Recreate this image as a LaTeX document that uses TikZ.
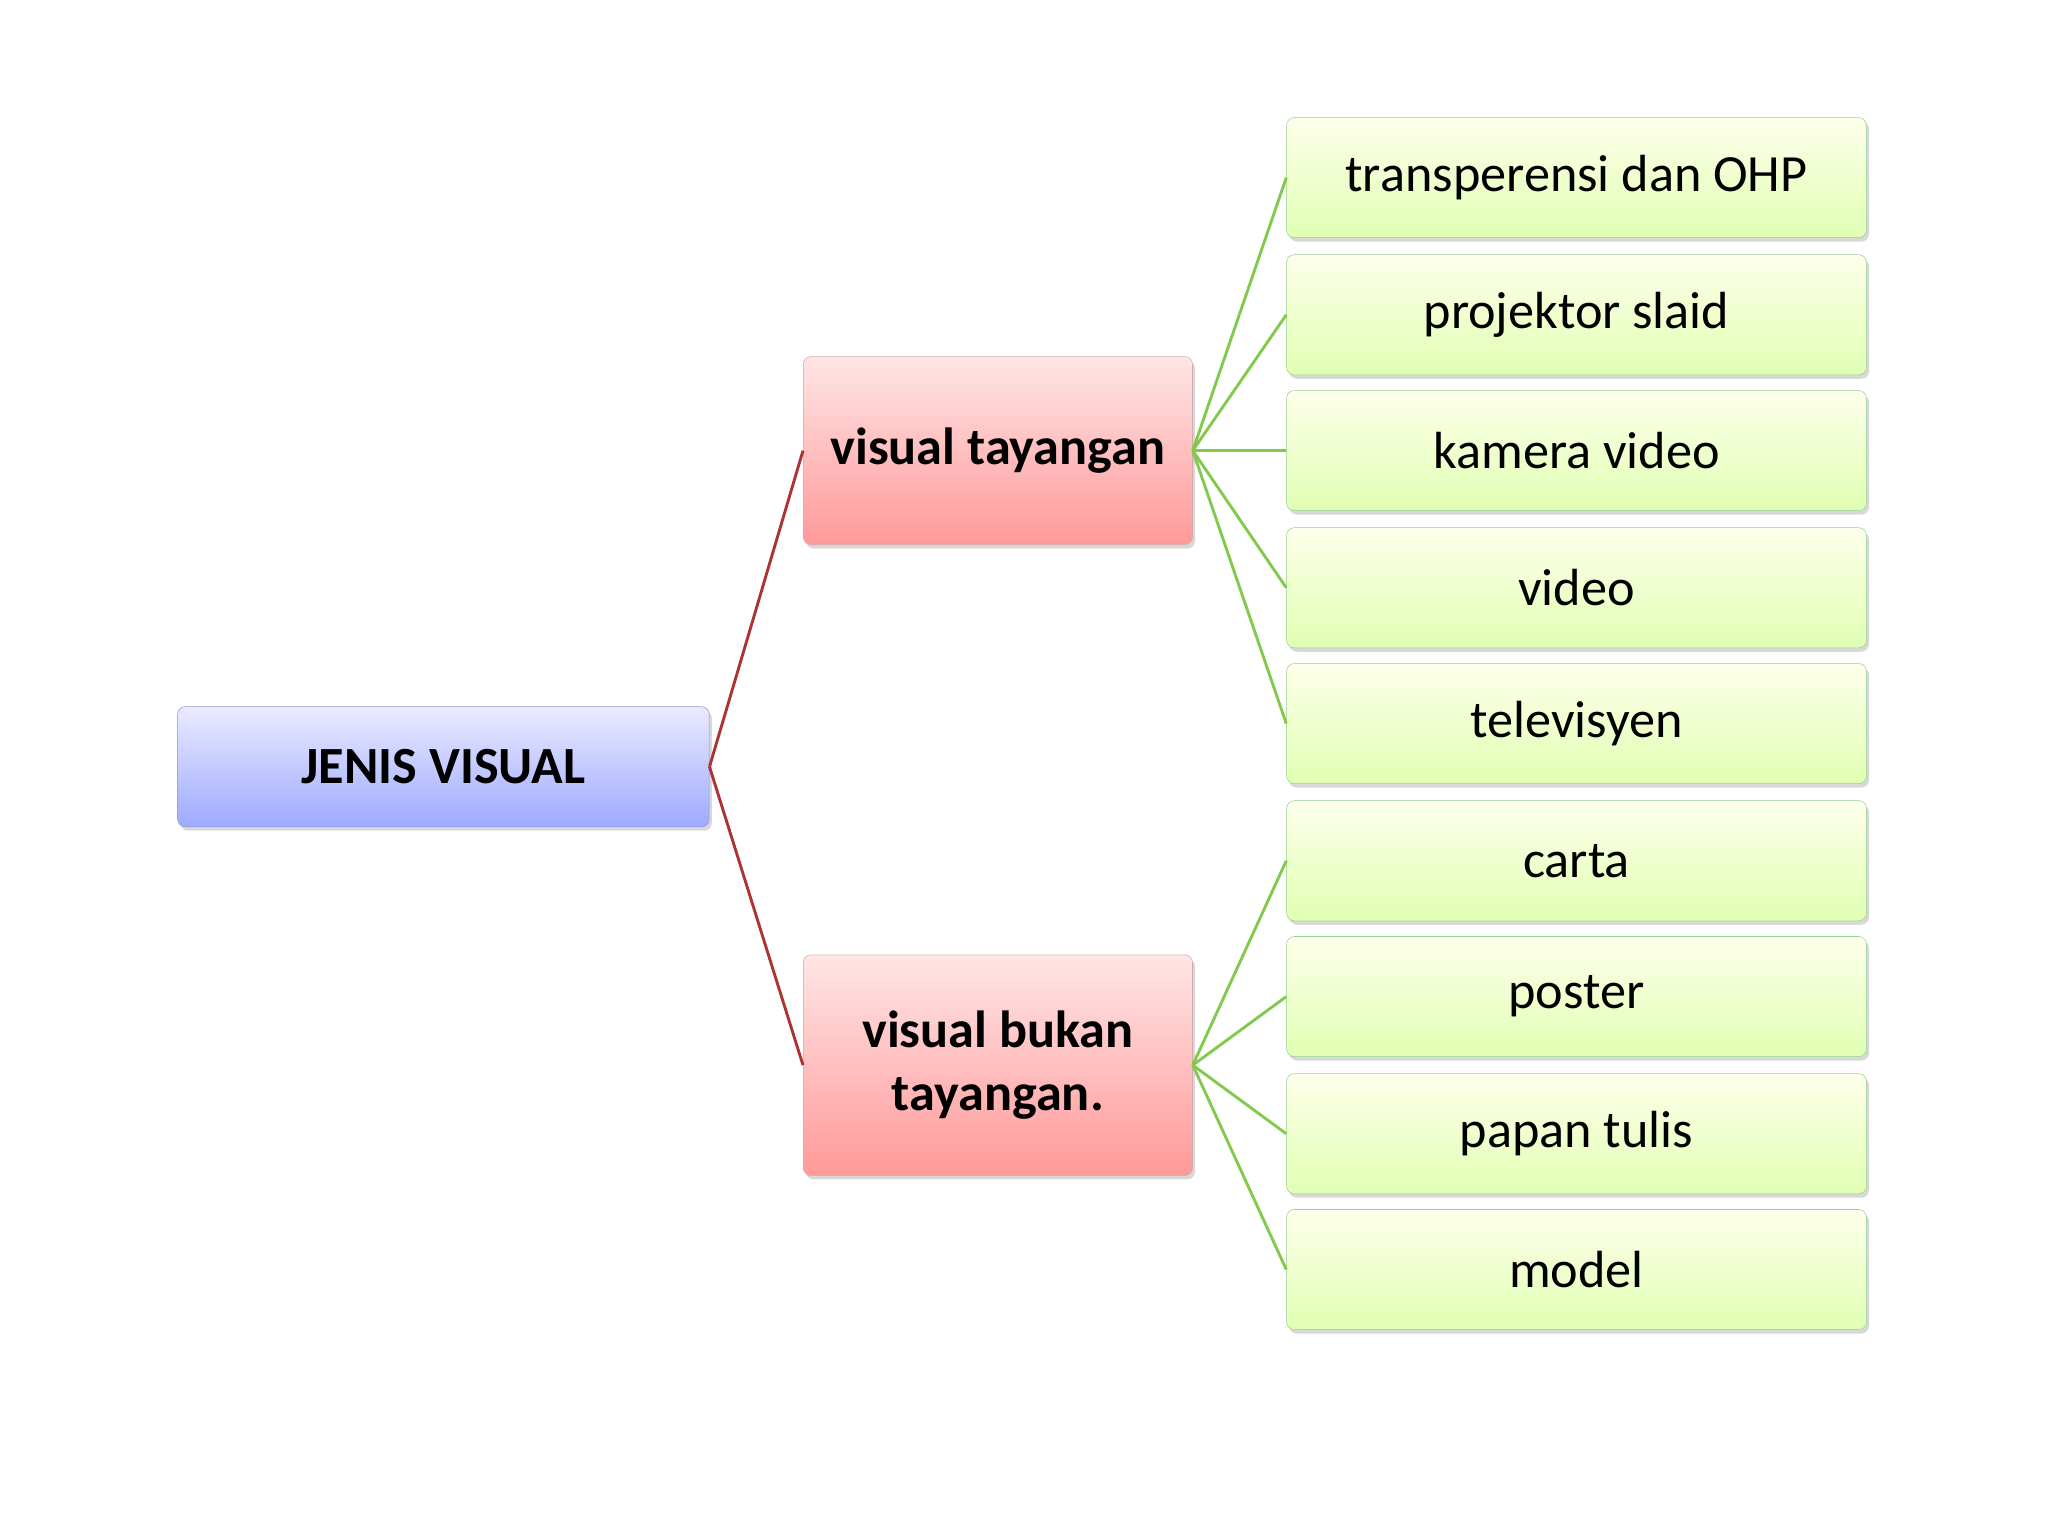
\documentclass[tikz,border=0pt]{standalone}
\usepackage{fontspec}
\setmainfont{Carlito}
\usetikzlibrary{shadows}
\begin{document}
\begin{tikzpicture}[x=1pt,y=-1pt,
 base/.style={rounded corners=6pt,inner sep=0pt,font=\fontsize{40}{44}\selectfont,align=center,
   drop shadow={shadow xshift=2pt,shadow yshift=-3pt,opacity=0.3}},
 rootbox/.style={base,draw=gray!60!blue!60,top color=blue!8!white,bottom color=blue!35!white!95!cyan,font=\fontsize{40}{44}\selectfont\bfseries},
 midbox/.style={base,draw=gray!70!red!50,top color=red!10!white,bottom color=red!40!white,font=\fontsize{40}{48}\selectfont\bfseries},
 leafbox/.style={base,draw=gray!60!green!60,top color=green!8!yellow!8!white,bottom color=green!40!yellow!30!white},
 redline/.style={draw=red!60!black!80,line width=2.2pt},
 greenline/.style={draw=green!40!olive!70,line width=2.2pt}]
\useasboundingbox[fill=white] (0,0) rectangle (1568,1176);
\node[rootbox,minimum width=407pt,minimum height=92pt] (root) at (339.5,587) {JENIS VISUAL};
\node[midbox,minimum width=298pt,minimum height=144pt] (vt) at (764,345) {visual tayangan};
\node[midbox,minimum width=298pt,minimum height=169pt] (vb) at (764,815.5) {visual bukan\\tayangan.};
\foreach \n/\y/\t in {a/90/transperensi dan OHP,b/195/projektor slaid,c/299/kamera video,d/404/video,e/508/televisyen,f/613/carta,g/717/poster,h/822/papan tulis,i/926/model}{
 \node[leafbox,minimum width=444pt,minimum height=92pt] (\n) at (1207,\y+46) {\t};}
\draw[redline] (root.east) -- (vt.west);
\draw[redline] (root.east) -- (vb.west);
\foreach \n in {a,b,c,d,e} \draw[greenline] (vt.east) -- (\n.west);
\foreach \n in {f,g,h,i} \draw[greenline] (vb.east) -- (\n.west);
\end{tikzpicture}
\end{document}
